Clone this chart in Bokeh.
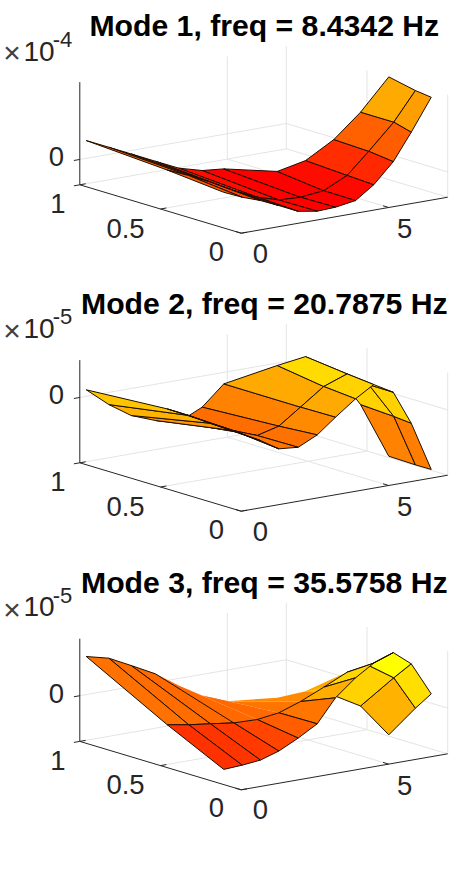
from bokeh.plotting import figure
from bokeh.layouts import column
from bokeh.core.properties import value
from bokeh.models import Range1d, LinearColorMapper, ColumnDataSource
from bokeh.embed import file_html
from bokeh.resources import INLINE

# ---- plan of the surface mesh: 12 stations along x, 3 rows across y
X_COLS = [0, 0.64, 1.27, 1.91, 2.55, 3.18, 3.82, 4.45, 5.09, 5.73, 6.36, 7.0]
Y_FAR = [0.960, 0.937, 0.914, 0.880, 0.853, 0.823, 0.806, 0.590, 0.532, 0.473, 0.423, 0.365]
Y_MID = [0.458, 0.442, 0.423, 0.395, 0.367, 0.348, 0.331, 0.302, 0.274, 0.257, 0.217, 0.200]
Y_FRONT = [0.108, 0.111, 0.113, 0.116, 0.113, 0.110, 0.114, 0.105, 0.109, 0.105, 0.109, 0.102]

# ---- mode shapes, in units of the panel's exponent
M1_FAR = [1.25, 0.72, 0.19, -0.35, -0.88, -1.13, -1.18, -0.90, -0.28, 0.96, 2.55, 4.64]
M1_MID = [0.94, 0.46, -0.08, -0.70, -1.21, -1.52, -1.50, -1.22, -0.42, 0.88, 2.55, 4.30]
M1_FRONT = [0.62, 0.12, -0.28, -0.79, -1.32, -1.50, -1.47, -1.24, -0.50, 0.70, 2.26, 4.18]
M2_FAR = [0.72, -0.55, -1.53, -2.03, -2.30, -1.31, 0.25, 2.17, 2.80, 1.73, -0.89, -4.80]
M2_MID = [1.11, 0.43, -0.33, -1.03, -1.54, -1.01, 0.23, 1.64, 2.44, 1.45, -1.03, -4.85]
M2_FRONT = [1.00, 0.25, -0.50, -1.38, -1.50, -0.80, 0.26, 1.43, 2.24, 1.43, -1.15, -4.84]
M3_FAR = [3.09, 2.80, 2.09, 1.34, 0.32, -0.56, -1.20, -0.38, 0.08, -0.28, -1.13, -3.33]
M3_MID = [-0.21, -0.40, -0.50, -0.58, -0.47, -0.14, 0.52, 1.46, 2.44, 2.76, 1.74, -0.73]
M3_FRONT = [-2.29, -2.23, -2.10, -1.68, -0.94, -0.10, 1.59, 2.88, 3.72, 4.28, 3.18, 0.70]

TITLES = ["Mode 1, freq = 8.4342 Hz", "Mode 2, freq = 20.7875 Hz", "Mode 3, freq = 35.5758 Hz"]
EXPONENTS = ["-4", "-5", "-5"]
ZLIMS = [(-1.52, 4.64), (-4.90, 2.80), (-3.43, 4.28)]
CLIMS = [(-1.52, 4.64), (-4.90, 2.80), (-3.92, 4.28)]
UNEDGED_FAR_FACES = [[], [], [3, 4, 5, 6, 7, 8]]
X_TICKS = [0, 5]
Y_TICKS = [0, 0.5, 1]
Z_TICKS = [0]
X_MAX = 7.0

# ---- layout / style (reference pixels)
W, H = 466, 280
ORIGIN_X = 240.7
ORIGIN_Y = [232.7, 230.7, 229.3]
EX = (29.5, 5.14)
EY = (-161.4, 48.4)
BOX_H = 102.67
TITLE_Y = [24.5, 23, 21.5]
EXP_Y = [(52, 50.5, 39), (50, 48, 36), (49, 46, 34.5)]
COT_EL, TAN_EL = 4.26, 0.235
INK = "#262626"
GRID = "#e4e4e4"
FONT = "Liberation Sans"
AUTUMN = ["#FF%02X00" % round(255 * i / 63) for i in range(64)]

PANELS = [(M1_FAR, M1_MID, M1_FRONT), (M2_FAR, M2_MID, M2_FRONT), (M3_FAR, M3_MID, M3_FRONT)]


def make_panel(k):
    zmin, zmax = ZLIMS[k]
    oy = ORIGIN_Y[k]

    def proj(x, y, z):
        sx = ORIGIN_X + EX[0] * x + EY[0] * y
        sy = oy - EX[1] * x - EY[1] * y - (z - zmin) / (zmax - zmin) * BOX_H
        return sx, sy

    def depth(x, y, z):
        h = (z - zmin) / (zmax - zmin) * BOX_H
        return COT_EL * (EX[1] * x + EY[1] * y) - TAN_EL * h

    p = figure(width=W, height=H, x_range=Range1d(0, W), y_range=Range1d(H, 0),
               x_axis_type=None, y_axis_type=None, toolbar_location=None,
               output_backend="svg", min_border=0, outline_line_color=None)
    p.grid.visible = False

    def seg(a, b, color, width=1.0):
        s, e = proj(*a), proj(*b)
        p.line([s[0], e[0]], [s[1], e[1]], line_color=color, line_width=width)

    # back walls and floor grid
    seg((0, 1, zmin), (X_MAX, 1, zmin), GRID)
    seg((X_MAX, 1, zmin), (X_MAX, 0, zmin), GRID)
    for xt in X_TICKS[1:]:
        seg((xt, 0, zmin), (xt, 1, zmin), GRID)
        seg((xt, 1, zmin), (xt, 1, zmax), GRID)
    seg((0, Y_TICKS[1], zmin), (X_MAX, Y_TICKS[1], zmin), GRID)
    for yt in Y_TICKS:
        seg((X_MAX, yt, zmin), (X_MAX, yt, zmax), GRID)
    for zt in Z_TICKS:
        seg((0, 1, zt), (X_MAX, 1, zt), GRID)
        seg((X_MAX, 1, zt), (X_MAX, 0, zt), GRID)

    # axes
    seg((0, 1, zmin), (0, 1, zmax), INK)
    seg((0, 1, zmin), (0, 0, zmin), INK)
    seg((0, 0, zmin), (X_MAX, 0, zmin), INK)
    for zt in Z_TICKS + [zmin]:
        seg((0, 1, zt), (-0.2, 1, zt), INK)
    for xt in X_TICKS:
        seg((xt, 0, zmin), (xt, 0.035, zmin), INK)
    for yt in Y_TICKS:
        seg((0, yt, zmin), (0.2, yt, zmin), INK)

    # surface faces, unedged ones first, then farthest first
    rows_y = [Y_FAR, Y_MID, Y_FRONT]
    rows_z = PANELS[k]
    faces = []
    for r in range(2):
        for i in range(len(X_COLS) - 1):
            nodes = [(X_COLS[i], rows_y[r][i], rows_z[r][i]),
                     (X_COLS[i + 1], rows_y[r][i + 1], rows_z[r][i + 1]),
                     (X_COLS[i + 1], rows_y[r + 1][i + 1], rows_z[r + 1][i + 1]),
                     (X_COLS[i], rows_y[r + 1][i], rows_z[r + 1][i])]
            d = sum(depth(*n) for n in nodes) / 4
            pts = [proj(*n) for n in nodes]
            edged = not (r == 0 and i in UNEDGED_FAR_FACES[k])
            faces.append((edged, -d, [q[0] for q in pts], [q[1] for q in pts],
                          rows_z[r + 1][i]))
    faces.sort(key=lambda f: (f[0], f[1]))
    src = ColumnDataSource(dict(xs=[f[2] for f in faces], ys=[f[3] for f in faces],
                                c=[f[4] for f in faces],
                                la=[1.0 if f[0] else 0.0 for f in faces]))
    mapper = LinearColorMapper(palette=AUTUMN, low=CLIMS[k][0], high=CLIMS[k][1])
    p.patches("xs", "ys", source=src, fill_color={"field": "c", "transform": mapper},
              line_color="#1c0d00", line_width=1.0, line_alpha="la")

    # texts
    def label(x, y, t, size=27.5, style="normal", color=INK, align="center"):
        p.text([x], [y], text=[t], text_font=value(FONT), text_font_size=f"{size}px",
               text_font_style=style, text_color=color, text_align=align,
               text_baseline="middle")

    label(263.8, TITLE_Y[k], TITLES[k], size=30.2, style="bold", color="#000000")
    for zt in Z_TICKS:
        sx, sy = proj(0, 1, zt)
        label(sx - 23.3, sy - 2.5, f"{zt:g}")
    for yt, off in zip(Y_TICKS, [(-24.7, 18), (-35, 19), (-22, 19)]):
        sx, sy = proj(0, yt, zmin)
        label(sx + off[0], sy + off[1], f"{yt:g}")
    for xt, off in zip(X_TICKS, [(19.3, 20), (16, 21)]):
        sx, sy = proj(xt, 0, zmin)
        label(sx + off[0], sy + off[1], f"{xt:g}")
    ey = EXP_Y[k]
    label(11.5, ey[0], "\u00d7", size=30, color="#404040")
    label(38.5, ey[1], "10", size=28)
    label(62, ey[2], EXPONENTS[k], size=22)
    return p


page = column(*[make_panel(k) for k in range(3)], spacing=0)
open("out.html", "w").write(file_html(page, INLINE))
